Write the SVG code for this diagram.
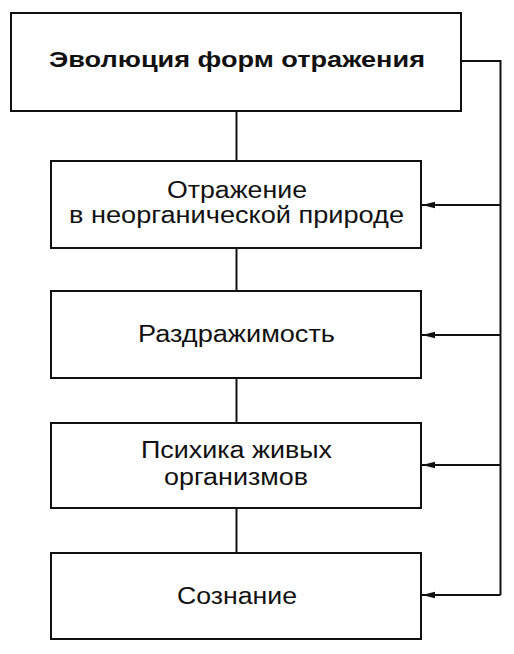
<svg xmlns="http://www.w3.org/2000/svg" width="514" height="654" viewBox="0 0 514 654">
<style>
.box{fill:#fff;stroke:#111;stroke-width:2}
.ln{fill:none;stroke:#111;stroke-width:2}
.t{font-family:"Liberation Sans",Arial,sans-serif;font-size:23px;fill:#111;text-anchor:middle}
.b{font-weight:bold;font-size:22.5px}
</style>
<defs>
<marker id="ah" markerUnits="userSpaceOnUse" markerWidth="14" markerHeight="8" refX="13" refY="4" orient="auto">
<path d="M0,0.8 L13,4 L0,7.2 Z" fill="#111"/>
</marker>
</defs>
<rect width="514" height="654" fill="#fff"/>
<g id="connectors">
<line class="ln" x1="236.5" y1="111" x2="236.5" y2="161"/>
<line class="ln" x1="236.5" y1="248" x2="236.5" y2="291"/>
<line class="ln" x1="236.5" y1="378" x2="236.5" y2="423"/>
<line class="ln" x1="236.5" y1="508" x2="236.5" y2="553"/>
<polyline class="ln" points="461,61 500.5,61 500.5,595"/>
<line class="ln" x1="500.5" y1="205" x2="422" y2="205" marker-end="url(#ah)"/>
<line class="ln" x1="500.5" y1="335" x2="422" y2="335" marker-end="url(#ah)"/>
<line class="ln" x1="500.5" y1="465" x2="422" y2="465" marker-end="url(#ah)"/>
<line class="ln" x1="500.5" y1="595" x2="422" y2="595" marker-end="url(#ah)"/>
</g>
<g id="n0">
<rect class="box" x="11" y="13" width="450" height="98"/>
<text class="t b" x="237" y="67" textLength="376" lengthAdjust="spacingAndGlyphs">Эволюция форм отражения</text>
</g>
<g id="n1">
<rect class="box" x="51" y="161" width="370" height="87"/>
<text class="t" x="237" y="198" textLength="140" lengthAdjust="spacingAndGlyphs">Отражение</text>
<text class="t" x="236.5" y="223" textLength="335" lengthAdjust="spacingAndGlyphs">в неорганической природе</text>
</g>
<g id="n2">
<rect class="box" x="51" y="291" width="370" height="87"/>
<text class="t" x="236.5" y="342" textLength="197" lengthAdjust="spacingAndGlyphs">Раздражимость</text>
</g>
<g id="n3">
<rect class="box" x="51" y="423" width="370" height="85"/>
<text class="t" x="236.5" y="458" textLength="191" lengthAdjust="spacingAndGlyphs">Психика живых</text>
<text class="t" x="236" y="485" textLength="144" lengthAdjust="spacingAndGlyphs">организмов</text>
</g>
<g id="n4">
<rect class="box" x="51" y="553" width="370" height="86"/>
<text class="t" x="237" y="604" textLength="120" lengthAdjust="spacingAndGlyphs">Сознание</text>
</g>
</svg>
